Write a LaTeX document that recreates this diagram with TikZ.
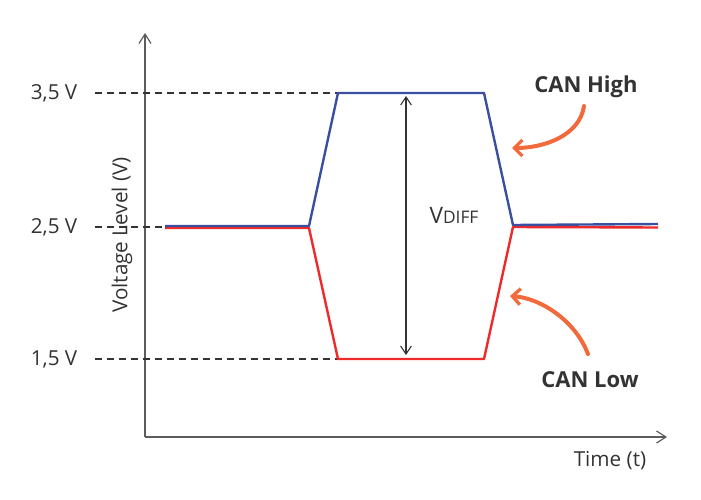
\documentclass[tikz,border=0pt]{standalone}
\usepackage{fontspec}
\setmainfont{Open Sans}
\usetikzlibrary{arrows.meta}
\definecolor{canblue}{HTML}{3A4FA0}
\definecolor{canred}{HTML}{EE2A2A}
\definecolor{orng}{HTML}{F26A3B}
\definecolor{txt}{HTML}{333333}
\begin{document}
\begin{tikzpicture}[x=0.75pt,y=-0.75pt,
  ax/.style={draw=txt!80,line width=0.9pt,-{Straight Barb[length=7pt,width=9pt]}},
  guide/.style={draw=txt,line width=1.1pt,dash pattern=on 5pt off 4pt},
  lbl/.style={text=txt,font=\fontsize{15.5}{17}\selectfont},
  big/.style={text=txt,font=\fontsize{16.5}{18}\selectfont\bfseries},
  oa/.style={draw=orng,line width=3pt,line cap=round,-{Straight Barb[length=6pt,width=12pt,line width=2.5pt]}}]
\useasboundingbox (0,0) rectangle (701,500);
\coordinate (o) at (145,437);
\coordinate (ytop) at (145,33);
\coordinate (xend) at (667,437);
\draw[ax] (o) -- (ytop);
\draw[ax] (o) -- (xend);
\node[lbl,anchor=east] (l35) at (82,93) {3,5 V};
\node[lbl,anchor=east] (l25) at (82,227) {2,5 V};
\node[lbl,anchor=east] (l15) at (82,359) {1,5 V};
\coordinate (d35a) at (95,93); \coordinate (d35b) at (338,93);
\coordinate (d25a) at (95,227); \coordinate (d25b) at (165,227);
\coordinate (d15a) at (95,359); \coordinate (d15b) at (338,359);
\draw[guide] (d35a) -- (d35b);
\draw[guide] (d25a) -- (d25b);
\draw[guide] (d15a) -- (d15b);
\node[lbl,rotate=90] (yl) at (122,235) {Voltage Level (V)};
\node[lbl] (xl) at (610,461) {Time (t)};
\draw[canred,line width=1.8pt,line join=round] (165,228) -- (309,228) -- (338,359) -- (484,359) -- (513,227) -- (658,227.5);
\draw[canblue,line width=1.8pt,line join=round] (165,226) -- (309,226) -- (338,93) -- (484,93) -- (513,225) -- (658,224);
\coordinate (va) at (406,96); \coordinate (vb) at (406,355);
\draw[txt,line width=0.8pt,{Straight Barb[length=6pt,width=8pt]}-{Straight Barb[length=6pt,width=8pt]}] (va) -- (vb);
\node[text=txt] (vd) at (454,215) {\fontsize{17}{19}\selectfont V\fontsize{13}{15}\selectfont DIFF};
\node[big] (ch) at (586,87) {CAN High};
\node[big] (cl) at (590,380) {CAN Low};
\coordinate (h1) at (584,106); \coordinate (h2) at (512,148);
\coordinate (w1) at (588,354); \coordinate (w2) at (510,296);
\draw[oa] (h1) .. controls (580,135) and (545,148) .. (h2);
\draw[oa] (w1) .. controls (575,320) and (540,298) .. (w2);
\end{tikzpicture}
\end{document}
